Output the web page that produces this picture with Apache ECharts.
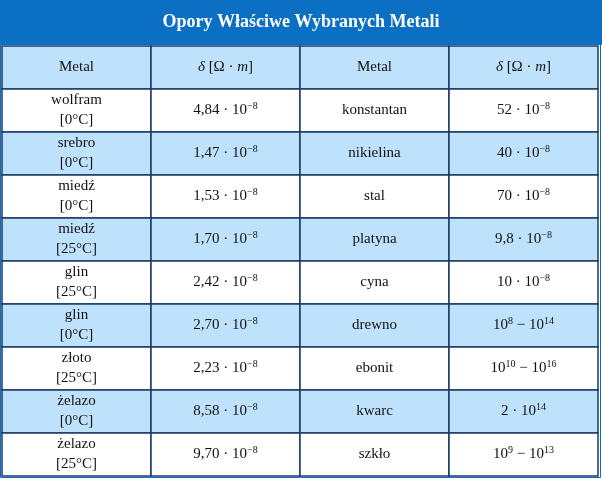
<!DOCTYPE html>
<html><head><meta charset="utf-8">
<script src="https://cdn.jsdelivr.net/npm/echarts@6/dist/echarts.min.js"></script>
<style>html,body{margin:0;padding:0;background:#fff}#c{width:602px;height:478px}</style>
</head><body><div id="c"></div>
<script>
const title = 'Opory Właściwe Wybranych Metali';
const headers = ['Metal', '{i|δ} [Ω · {i|m}]', 'Metal', '{i|δ} [Ω · {i|m}]'];
const metalsLeft = ['wolfram\n[0°C]','srebro\n[0°C]','miedź\n[0°C]','miedź\n[25°C]','glin\n[25°C]','glin\n[0°C]','złoto\n[25°C]','żelazo\n[0°C]','żelazo\n[25°C]'];
const valuesLeft = ['4,84 · 10{s|−8}','1,47 · 10{s|−8}','1,53 · 10{s|−8}','1,70 · 10{s|−8}','2,42 · 10{s|−8}','2,70 · 10{s|−8}','2,23 · 10{s|−8}','8,58 · 10{s|−8}','9,70 · 10{s|−8}'];
const metalsRight = ['konstantan','nikielina','stal','platyna','cyna','drewno','ebonit','kwarc','szkło'];
const valuesRight = ['52 · 10{s|−8}','40 · 10{s|−8}','70 · 10{s|−8}','9,8 · 10{s|−8}','10 · 10{s|−8}','10{s|8} − 10{s|14}','10{s|10} − 10{s|16}','2 · 10{s|14}','10{s|9} − 10{s|13}'];

const rows = [headers];
metalsLeft.forEach((m,i)=>rows.push([m, valuesLeft[i], metalsRight[i], valuesRight[i]]));
const cells = [];
rows.forEach((r,ri)=>r.forEach((t,ci)=>cells.push([ci, ri, t])));

const font = '"Liberation Serif", "DejaVu Serif", serif';
const chart = echarts.init(document.getElementById('c'));
chart.setOption({
  animation:false,
  graphic:[
    {type:'rect', shape:{x:0,y:0,width:602,height:45}, style:{fill:'#0b6fc4'}},
    {type:'text', x:301, y:22, style:{text:title, fill:'#fff', font:'bold 18px '+font, align:'center', verticalAlign:'middle'}},
    {type:'rect', shape:{x:0.5,y:0.5,width:600,height:477}, style:{fill:'none', stroke:'#0b6fc4', lineWidth:1}, z:100}
  ],
  grid:{left:2, right:4, top:46, bottom:2},
  xAxis:{type:'category', data:[0,1,2,3], show:false},
  yAxis:{type:'category', data:rows.map((r,i)=>i), inverse:true, show:false},
  series:[{
    type:'custom',
    data:cells,
    renderItem:(params, api)=>{
      const c = api.coord([api.value(0), api.value(1)]);
      const s = api.size([1,1]);
      const ri = api.value(1);
      const fill = (ri % 2 === 0) ? '#bfe2fc' : '#ffffff';
      const txt = cells[params.dataIndex][2];
      return {type:'group', children:[
        {type:'rect', shape:{x:c[0]-s[0]/2, y:c[1]-s[1]/2, width:s[0], height:s[1]},
         style:{fill:fill, stroke:'#1d3a63', lineWidth:1.5}},
        {type:'text', x:c[0], y:c[1], style:{
          text:txt, fill:'#111', font:'15px '+font, align:'center', verticalAlign:'middle', lineHeight:20,
          rich:{s:{fontSize:10, fontFamily:font, padding:[0,0,9,0]}, i:{fontStyle:'italic', fontSize:15, fontFamily:font}}
        }}
      ]};
    }
  }]
});
</script></body></html>
